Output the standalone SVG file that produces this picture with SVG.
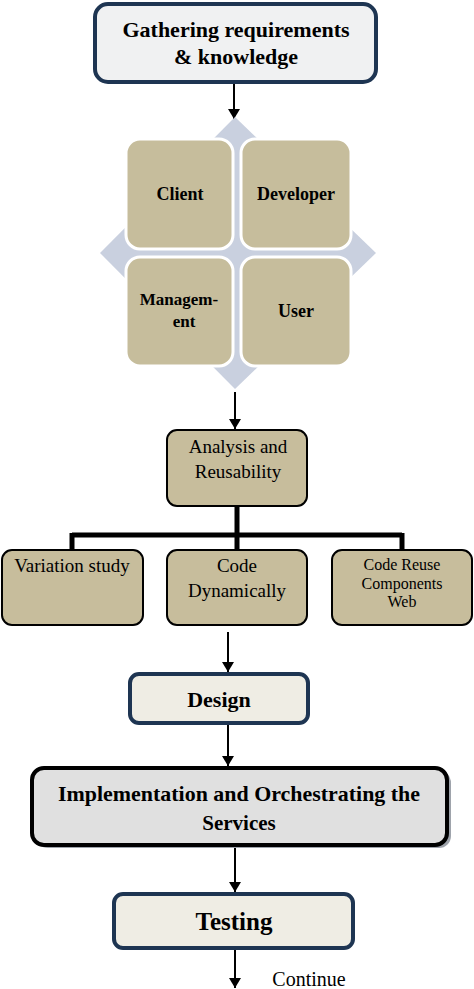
<svg xmlns="http://www.w3.org/2000/svg" width="474" height="989" viewBox="0 0 474 989">
<defs>
<marker id="ah" markerWidth="12" markerHeight="12" refX="10" refY="6" orient="auto" markerUnits="userSpaceOnUse">
<path d="M0,0 L10,6 L0,12 Z" fill="#000"/>
</marker>
<style>
.b{font-family:"Liberation Serif","DejaVu Serif",serif;font-weight:bold;fill:#000;text-anchor:middle}
.n{font-family:"Liberation Serif","DejaVu Serif",serif;fill:#000;text-anchor:middle}
.navy{fill:#f0f1f2;stroke:#1e3552;stroke-width:4}
.cream{fill:#efede4;stroke:#1e3552;stroke-width:4}
.tan{fill:#c7bd9c;stroke:#000;stroke-width:2}
.sq{fill:#c6bd9c;stroke:#fff;stroke-width:3}
.c{stroke:#000;stroke-width:2;fill:none}
</style>
</defs>
<rect width="474" height="989" fill="#fff"/>

<g id="connectors">
<line class="c" x1="234" y1="82" x2="234" y2="119" marker-end="url(#ah)"/>
<line class="c" x1="235" y1="392" x2="235" y2="429" marker-end="url(#ah)"/>
<path d="M237,506 V535 M72,535 H402 M72,533 V550 M237,535 V550 M402,533 V550" stroke="#000" stroke-width="5" fill="none"/>
<line class="c" x1="228" y1="632" x2="228" y2="672" marker-end="url(#ah)"/>
<line class="c" x1="228" y1="723" x2="228" y2="766" marker-end="url(#ah)"/>
<line class="c" x1="235" y1="847" x2="235" y2="892" marker-end="url(#ah)"/>
<line class="c" x1="235" y1="948" x2="235" y2="988" marker-end="url(#ah)"/>
</g>

<g id="gathering">
<rect class="navy" x="95" y="4" width="281" height="78" rx="13"/>
<text class="b" x="236" y="37" font-size="22">Gathering requirements</text>
<text class="b" x="236" y="64" font-size="22">&amp; knowledge</text>
</g>

<g id="stakeholders">
<polygon points="235,117 376,253 235,389 100,253" fill="#c9d0df"/>
<g id="client">
<rect class="sq" x="126" y="139" width="107" height="110" rx="14"/>
<text class="b" x="180" y="200" font-size="18">Client</text>
</g>
<g id="developer">
<rect class="sq" x="241" y="139" width="110" height="110" rx="14"/>
<text class="b" x="296" y="200" font-size="18">Developer</text>
</g>
<g id="management">
<rect class="sq" x="126" y="257" width="107" height="109" rx="14"/>
<text class="b" x="179" y="305" font-size="17">Managem-</text>
<text class="b" x="184" y="327" font-size="17">ent</text>
</g>
<g id="user">
<rect class="sq" x="241" y="257" width="110" height="109" rx="14"/>
<text class="b" x="296" y="317" font-size="18">User</text>
</g>
</g>

<g id="analysis">
<rect class="tan" x="167" y="430" width="140" height="76" rx="10"/>
<text class="n" x="238" y="453" font-size="19">Analysis and</text>
<text class="n" x="238" y="478" font-size="19">Reusability</text>
</g>

<g id="variation">
<rect class="tan" x="2" y="550" width="141" height="75" rx="10"/>
<text class="n" x="72" y="572" font-size="19">Variation study</text>
</g>
<g id="codedyn">
<rect class="tan" x="167" y="550" width="140" height="75" rx="10"/>
<text class="n" x="237" y="572" font-size="19">Code</text>
<text class="n" x="237" y="597" font-size="19">Dynamically</text>
</g>
<g id="codereuse">
<rect class="tan" x="332" y="550" width="140" height="75" rx="10"/>
<text class="n" x="402" y="570" font-size="16">Code Reuse</text>
<text class="n" x="402" y="589" font-size="16">Components</text>
<text class="n" x="402" y="607" font-size="16">Web</text>
</g>

<g id="design">
<rect class="cream" x="130" y="674" width="178" height="49" rx="9"/>
<text class="b" x="219" y="707" font-size="22">Design</text>
</g>

<g id="implementation">
<rect x="36" y="771" width="415" height="77" rx="12" fill="#9ea3ab"/>
<rect x="32" y="768" width="415" height="77" rx="12" fill="#e0e0e0" stroke="#000" stroke-width="4"/>
<text class="b" x="239" y="801" font-size="21" textLength="362" lengthAdjust="spacingAndGlyphs">Implementation and Orchestrating the</text>
<text class="b" x="239" y="830" font-size="21">Services</text>
</g>

<g id="testing">
<rect class="cream" x="114" y="894" width="239" height="54" rx="9"/>
<text class="b" x="234" y="930" font-size="25">Testing</text>
</g>

<text class="n" x="309" y="986" font-size="20">Continue</text>
</svg>
